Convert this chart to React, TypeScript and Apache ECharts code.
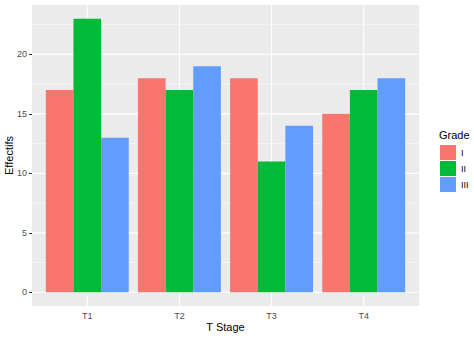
import React, { useEffect, useRef } from "react";
import * as echarts from "echarts";

const categories = ["T1", "T2", "T3", "T4"];
const grades = ["I", "II", "III"];
const valuesI = [17, 18, 18, 15];
const valuesII = [23, 17, 11, 17];
const valuesIII = [13, 19, 14, 18];
const yTicks = [0, 5, 10, 15, 20];
const yMinor = [2.5, 7.5, 12.5, 17.5, 22.5];
const colors = ["#F8766D", "#00BA38", "#619CFF"];

const Y_MIN = -1.15;
const Y_MAX = 24.15;
const X_MIN = 0.4;
const X_MAX = 4.6;

export default function App() {
  const ref = useRef<HTMLDivElement>(null);
  useEffect(() => {
    if (!ref.current) return;
    const chart = echarts.init(ref.current, null, { renderer: "svg" });
    const allSeries = [valuesI, valuesII, valuesIII];
    const gridData: number[][] = [];
    yTicks.forEach((v) => gridData.push([0, v, 1.1]));
    yMinor.forEach((v) => gridData.push([0, v, 0.55]));
    categories.forEach((_, i) => gridData.push([1, i + 1, 1.1]));

    const barSeries = allSeries.map((vals, k) => ({
      type: "custom",
      name: grades[k],
      z: 3,
      itemStyle: { color: colors[k] },
      data: vals.map((v, i) => [i + 1, v]),
      renderItem: (params: any, api: any) => {
        const x = api.value(0);
        const v = api.value(1);
        const c = x + (k - 1) * 0.3;
        const p0 = api.coord([c - 0.15, v]);
        const p1 = api.coord([c + 0.15, 0]);
        return {
          type: "rect",
          shape: { x: p0[0], y: p0[1], width: p1[0] - p0[0], height: p1[1] - p0[1] },
          style: { fill: colors[k] },
        };
      },
    }));

    chart.setOption({
      animation: false,
      backgroundColor: "#FFFFFF",
      textStyle: { fontFamily: "Liberation Sans" },
      grid: {
        left: 32,
        top: 5,
        right: 55,
        bottom: 32,
        show: true,
        backgroundColor: "#EBEBEB",
        borderWidth: 0,
        containLabel: false,
        outerBoundsMode: "none",
      },
      title: {
        text: "Grade",
        left: 434,
        top: 124,
        textStyle: { fontSize: 11, fontWeight: "normal", color: "#000000", fontFamily: "Liberation Sans" },
      },
      legend: {
        data: grades,
        orient: "vertical",
        left: 435,
        top: 140,
        itemWidth: 16,
        itemHeight: 15,
        itemGap: 1,
        icon: "rect",
        textStyle: { fontSize: 9, color: "#000000", fontFamily: "Liberation Sans" },
        selectedMode: false,
      },
      xAxis: {
        type: "value",
        min: X_MIN,
        max: X_MAX,
        name: "T Stage",
        nameLocation: "middle",
        nameGap: 15,
        nameMoveOverlap: false,
        nameTextStyle: { fontSize: 11, color: "#000000", fontFamily: "Liberation Sans" },
        axisLine: { show: false },
        splitLine: { show: false },
        axisTick: { show: true, length: 3, customValues: [1, 2, 3, 4], lineStyle: { color: "#333333", width: 1 } },
        axisLabel: {
          customValues: [1, 2, 3, 4],
          formatter: (v: number) => categories[Math.round(v) - 1] ?? "",
          fontSize: 9,
          color: "#4D4D4D",
          margin: 5,
          fontFamily: "Liberation Sans",
        },
      },
      yAxis: {
        type: "value",
        min: Y_MIN,
        max: Y_MAX,
        name: "Effectifs",
        nameLocation: "middle",
        nameGap: 18,
        nameMoveOverlap: false,
        nameRotate: 90,
        nameTextStyle: { fontSize: 11, color: "#000000", fontFamily: "Liberation Sans" },
        axisLine: { show: false },
        splitLine: { show: false },
        axisTick: { show: true, length: 3, customValues: yTicks, lineStyle: { color: "#333333", width: 1 } },
        axisLabel: {
          customValues: yTicks,
          fontSize: 9,
          color: "#4D4D4D",
          margin: 5,
          fontFamily: "Liberation Sans",
        },
      },
      series: [
        {
          type: "custom",
          name: "grid",
          z: 1,
          silent: true,
          data: gridData,
          renderItem: (params: any, api: any) => {
            const orient = api.value(0);
            const v = api.value(1);
            const w = api.value(2);
            const a = orient === 0 ? api.coord([X_MIN, v]) : api.coord([v, Y_MIN]);
            const b = orient === 0 ? api.coord([X_MAX, v]) : api.coord([v, Y_MAX]);
            return {
              type: "line",
              shape: { x1: a[0], y1: a[1], x2: b[0], y2: b[1] },
              style: { stroke: "#FFFFFF", lineWidth: w },
            };
          },
        },
        ...barSeries,
      ],
    });
    return () => chart.dispose();
  }, []);
  return <div ref={ref} style={{ width: 474, height: 338, position: "absolute", left: 0, top: 0 }} />;
}
